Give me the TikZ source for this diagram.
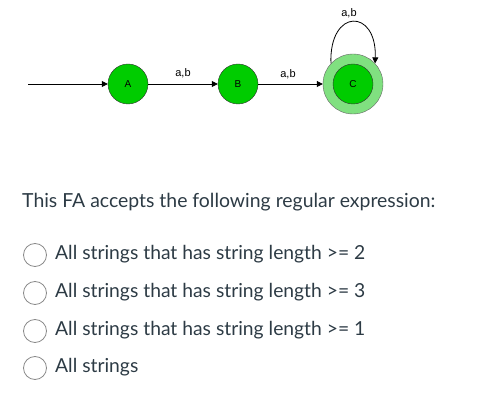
\documentclass[tikz,border=0pt]{standalone}
\usepackage{fontspec}
\setmainfont{Lato}
\newfontfamily\diag{Liberation Sans}
\usetikzlibrary{arrows.meta}
\definecolor{stgreen}{HTML}{00CC00}
\definecolor{lightg}{HTML}{80E080}
\definecolor{radiogray}{HTML}{8A8A8A}
\definecolor{txt}{HTML}{2D3B45}
\begin{document}
\begin{tikzpicture}[x=1pt,y=-1pt,
  state/.style={circle,draw=black!80,fill=stgreen,minimum size=40pt,inner sep=0pt,font=\diag\fontsize{10}{12}\selectfont},
  outerst/.style={circle,draw=black!60,fill=lightg,minimum size=60pt,inner sep=0pt},
  edge/.style={draw=black,line width=0.8pt,-{Triangle[length=6pt,width=6pt]}},
  elabel/.style={font=\diag\fontsize{11}{13}\selectfont},
  radio/.style={circle,draw=radiogray,line width=0.8pt,minimum size=23pt,inner sep=0pt},
  opt/.style={anchor=west,font=\fontsize{19.3}{22}\selectfont,text=txt,inner sep=0pt}]
\useasboundingbox (0,0) rectangle (495,411);
\coordinate (start) at (28,84);
\node[state] (A) at (128,84) {A};
\node[state] (B) at (238,84) {B};
\node[outerst] (Co) at (353,84) {};
\node[state] (C) at (353,84) {C};
\draw[edge] (start) -- (A);
\draw[edge] (A) -- node[elabel,above=2pt]{a,b} (B);
\draw[edge] (B) -- (Co);
\node[elabel] at (288,74) {a,b};
\draw[edge] (Co.137) .. controls (329,8) and (377,8) .. (Co.43);
\node[elabel] at (349,13) {a,b};
\node[anchor=west,font=\fontsize{19.4}{22}\selectfont,text=txt,inner sep=0pt] (q) at (22,202) {This FA accepts the following regular expression:};
\node[radio] (r1) at (35,255) {};
\node[opt] (o1) at (55,254) {All strings that has string length >= 2};
\node[radio] (r2) at (35,293) {};
\node[opt] (o2) at (55,292) {All strings that has string length >= 3};
\node[radio] (r3) at (35,331) {};
\node[opt] (o3) at (55,330) {All strings that has string length >= 1};
\node[radio] (r4) at (35,368) {};
\node[opt] (o4) at (55,367) {All strings};
\end{tikzpicture}
\end{document}
